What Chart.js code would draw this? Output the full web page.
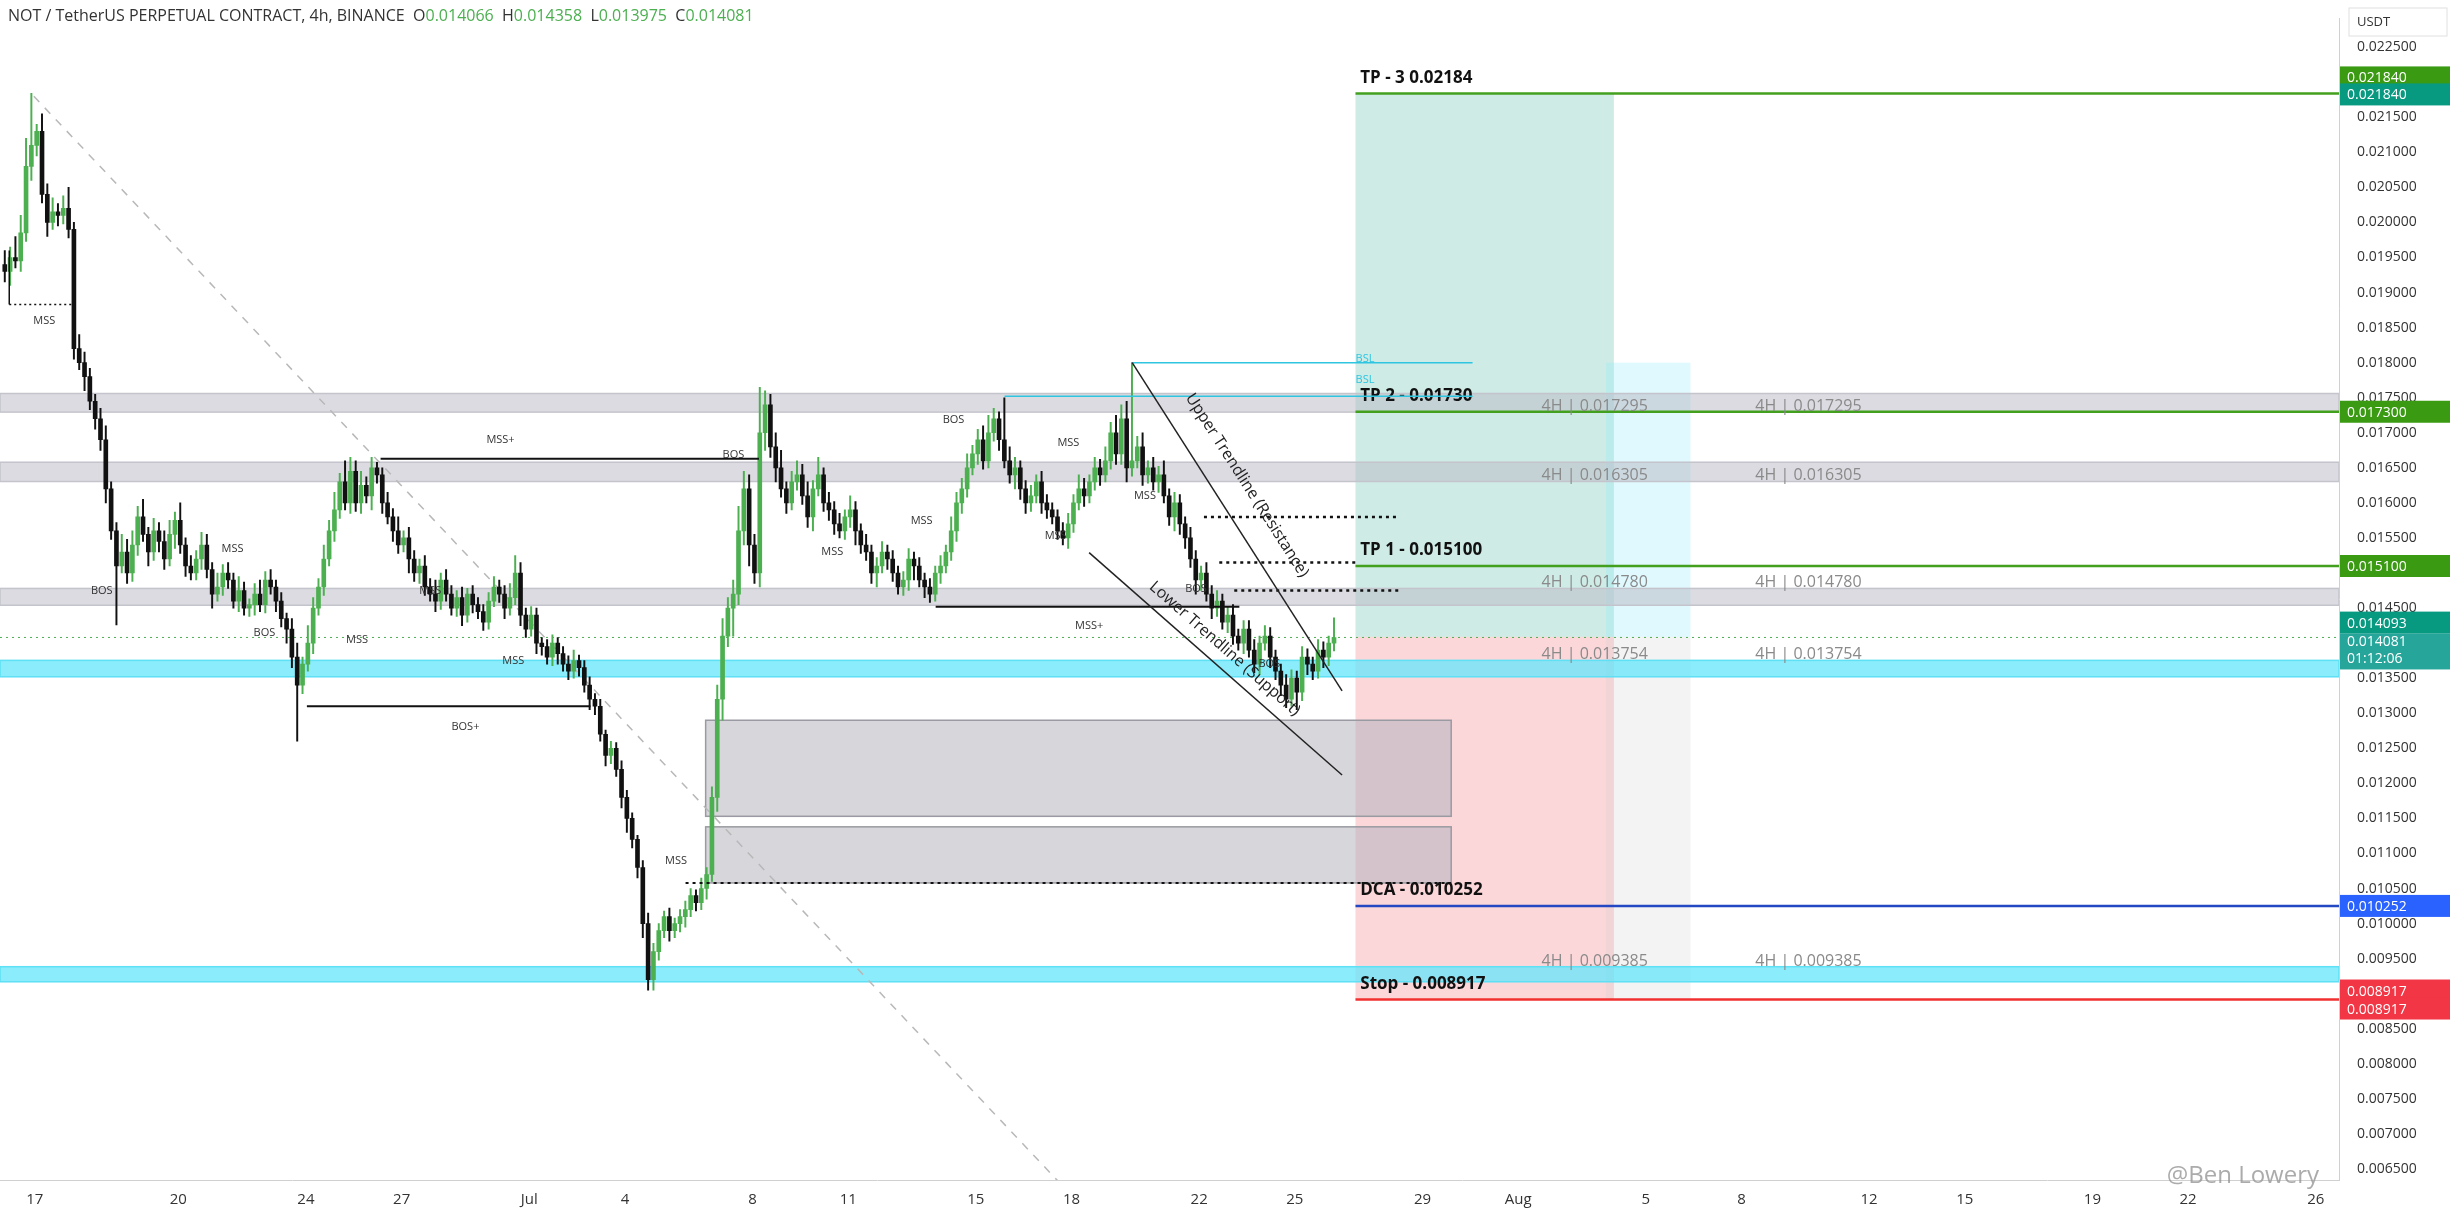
<!DOCTYPE html>
<html><head><meta charset="utf-8">
<script src="https://cdn.jsdelivr.net/npm/chart.js@4.4.1/dist/chart.umd.min.js"></script>
<style>html,body{margin:0;padding:0;background:#fff;overflow:hidden}canvas{display:block}</style>
</head><body><canvas id="c" width="2455" height="1229"></canvas>
<script>
// prices in units of 1e-5 USDT, 4h candles starting Jun 15 ~13:00
const closes = [
1930,1950,1945,1985,2080,2110, 2130,2040,2000,2015,2010,2020, 1990,1820,1800,1780,1745,1720,
1690,1620,1560,1510,1530,1500, 1540,1580,1555,1530,1560,1545, 1520,1555,1575,1540,1510,1500,
1520,1540,1505,1470,1480,1500, 1490,1460,1475,1450,1455,1470, 1455,1490,1480,1460,1435,1420,
1380,1340,1370,1400,1450,1480, 1520,1560,1590,1630,1600,1645, 1600,1625,1610,1650,1640,1600,
1580,1560,1540,1550,1520,1500, 1510,1480,1470,1460,1490,1470, 1450,1465,1440,1470,1455,1445,
1430,1460,1480,1470,1450,1465, 1500,1440,1420,1440,1400,1395, 1380,1400,1385,1370,1360,1375,
1365,1340,1320,1310,1270,1240, 1250,1220,1180,1150,1120,1080, 1000,920,960,990,1010,990,
1000,1010,1020,1040,1030,1050, 1070,1180,1320,1410,1450,1470, 1560,1620,1540,1500,1700,1740,
1680,1650,1620,1600,1630,1640, 1610,1580,1620,1640,1600,1590, 1570,1560,1580,1590,1560,1540,
1530,1500,1510,1530,1520,1500, 1480,1490,1520,1510,1490,1480, 1470,1500,1510,1530,1560,1600,
1620,1650,1670,1690,1660,1700, 1720,1690,1660,1640,1650,1620, 1600,1610,1630,1600,1590,1580,
1560,1550,1570,1600,1620,1610, 1630,1650,1640,1660,1700,1670, 1720,1650,1660,1680,1640,1650,
1630,1640,1610,1580,1600,1570, 1550,1520,1490,1500,1470,1450, 1460,1430,1440,1410,1400,1420,
1390,1370,1400,1410,1380,1360, 1340,1320,1350,1330,1380,1370, 1360,1390,1380,1400,1408];
const wickUp = [
20,15,30,25,40,74, 10,25,15,20,12,18, 30,10,20,15,12,10, 15,20,10,12,25,18, 20,15,25,10,18,12,
15,20,12,25,10,15, 12,18,15,10,20,12, 15,10,20,12,8,15, 20,12,15,10,12,8, 15,20,10,25,15,12,
20,15,25,12,30,20, 15,20,12,15,8,10, 15,12,20,10,15,12, 10,15,12,20,10,15, 12,10,15,8,12,10,
10,12,15,10,12,20, 25,15,10,12,10,8, 10,12,8,10,12,15, 8,10,12,8,10,6, 10,8,12,10,8,6,
10,15,12,10,8,12, 8,10,12,10,8,15, 10,15,20,25,15,20, 35,25,20,15,65,20, 15,20,25,10,15,20,
15,20,12,25,10,15, 12,15,10,20,12,10, 15,10,12,15,10,12, 10,12,15,10,12,10, 12,10,15,10,20,15,
15,20,12,15,20,25, 15,10,60,20,15,10, 12,15,10,15,12,10, 10,12,15,12,20,15, 10,15,12,20,15,25,
20,25,140,15,20,10, 15,12,20,10,15,12, 10,15,12,10,15,12, 15,10,12,15,10,12, 12,15,10,15,12,10,
10,15,12,10,15,12, 10,15,12,10,28];
const wickDn = [
15,20,10,15,12,20, 15,12,20,10,15,12, 12,15,10,20,12,15, 15,20,12,84,10,15, 12,15,10,20,12,15,
15,10,20,12,15,10, 10,15,12,20,10,12, 12,10,15,10,12,15, 10,12,10,15,12,20, 15,80,12,10,15,10,
12,10,15,12,10,15, 12,15,10,20,12,15, 10,15,12,10,20,12, 15,12,10,15,12,10, 10,12,15,10,12,10,
12,10,8,12,15,10, 10,15,12,10,15,12, 10,12,15,10,12,10, 12,10,15,12,10,15, 12,10,15,20,12,15,
20,15,15,12,10,15, 10,12,15,10,12,10, 15,10,20,30,15,40, 15,20,30,15,20,25, 15,20,12,15,10,12,
12,15,20,10,12,15, 15,10,12,15,20,12, 12,15,20,10,15,12, 10,12,15,20,10,15, 12,10,15,10,12,15,
15,12,10,15,12,10, 12,15,10,12,20,15, 15,12,10,15,12,10, 12,10,15,12,10,15, 10,12,15,10,12,15,
15,20,12,10,15,12, 12,15,10,12,20,15, 15,12,20,15,10,15, 12,10,15,12,10,15, 10,12,15,10,15,12,
15,12,10,25,12,15, 12,10,15,12,11];
const firstOpen = 1940;
const startDay = -16.44;           // days relative to Jul 1
const tickDays = [-15.5,-11,-7,-4,0,3,7,10,14,17,21,24,28,31,35,38,42,45,49,52,56];
const tickLabels = ["17","20","24","27","Jul","4","8","11","15","18","22","25","29","Aug","5","8","12","15","19","22","26"];
const zonesGray = [[0.017295,0.01756],[0.016305,0.01658],[0.01454,0.01478]];
const zonesCyan = [[0.01352,0.013754],[0.00917,0.009385]];
const zoneLabels = ["4H | 0.017295","4H | 0.016305","4H | 0.014780","4H | 0.013754","4H | 0.009385"];
const zoneLabelVals = [0.017295,0.016305,0.01478,0.013754,0.009385];
const targets = [["TP - 3 0.02184",0.02184,"#43a01f"],["TP 2 - 0.01730",0.0173,"#43a01f"],["TP 1 - 0.015100",0.0151,"#43a01f"],["DCA - 0.010252",0.010252,"#2447c4"],["Stop - 0.008917",0.008917,"#f23030"]];
const entry = 0.01409, lastPrice = 0.014081;

const U = 1e-5;
const bodies=[], wicks=[], cols=[];
let prev = firstOpen;
for (let i=0;i<closes.length;i++){
  const o=prev, c=closes[i];
  const x = startDay + i/6;
  bodies.push({x, y:[o*U, (c===o? c+1:c)*U]});
  wicks.push({x, y:[(Math.min(o,c)-wickDn[i])*U,(Math.max(o,c)+wickUp[i])*U]});
  cols.push(c>=o ? '#4caf50' : '#111111');
  prev=c;
}

const ann = {
  id:'ann',
  beforeDatasetsDraw(ch){
    const {ctx, chartArea:a, scales:{x,y}} = ch;
    const X=v=>x.getPixelForValue(v), Y=v=>y.getPixelForValue(v);
    ctx.save(); ctx.beginPath(); ctx.rect(a.left,a.top,a.right-a.left,a.bottom-a.top); ctx.clip();
    ctx.fillStyle='rgba(8,153,129,0.2)'; ctx.fillRect(X(25.9),Y(0.02184),X(34)-X(25.9),Y(entry)-Y(0.02184));
    ctx.fillStyle='rgba(242,54,69,0.2)'; ctx.fillRect(X(25.9),Y(entry),X(34)-X(25.9),Y(0.008917)-Y(entry));
    ctx.fillStyle='rgba(140,235,250,0.28)'; ctx.fillRect(X(33.75),Y(0.0180),X(36.4)-X(33.75),Y(entry)-Y(0.018));
    ctx.fillStyle='rgba(200,200,200,0.22)'; ctx.fillRect(X(33.75),Y(entry),X(36.4)-X(33.75),Y(0.008917)-Y(entry));
    const band=(lo,hi,f,s)=>{ctx.fillStyle=f;ctx.fillRect(a.left,Y(hi),a.right-a.left,Y(lo)-Y(hi));ctx.strokeStyle=s;ctx.lineWidth=1.5;ctx.strokeRect(a.left,Y(hi),a.right-a.left,Y(lo)-Y(hi));};
    zonesGray.forEach(z=>band(z[0],z[1],'rgba(190,190,200,0.55)','#c4c4cc'));
    zonesCyan.forEach(z=>band(z[0],z[1],'rgba(100,230,250,0.75)','#5ee0f5'));
    ctx.fillStyle='rgba(180,180,190,0.55)'; ctx.strokeStyle='#9a9aa2'; ctx.lineWidth=1.5;
    [[0.01153,0.0129],[0.01058,0.01138]].forEach(b=>{ctx.fillRect(X(5.53),Y(b[1]),X(28.9)-X(5.53),Y(b[0])-Y(b[1]));ctx.strokeRect(X(5.53),Y(b[1]),X(28.9)-X(5.53),Y(b[0])-Y(b[1]));});
    ctx.strokeStyle='#b8b8b8'; ctx.setLineDash([8,8]); ctx.lineWidth=1.5;
    ctx.beginPath(); ctx.moveTo(X(-15.53),Y(0.0218)); ctx.lineTo(X(16.59),Y(0.00632)); ctx.stroke();
    ctx.setLineDash([]);
    ctx.strokeStyle='#4caf50'; ctx.setLineDash([2,4]); ctx.lineWidth=1;
    ctx.beginPath(); ctx.moveTo(a.left,Y(lastPrice)); ctx.lineTo(a.right,Y(lastPrice)); ctx.stroke();
    ctx.setLineDash([]);
    ctx.restore();
  },
  afterDatasetsDraw(ch){
    const {ctx, chartArea:a, scales:{x,y}} = ch;
    const X=v=>x.getPixelForValue(v), Y=v=>y.getPixelForValue(v);
    ctx.save();
    const line=(d1,p1,d2,p2,c,w,dash)=>{ctx.strokeStyle=c;ctx.lineWidth=w;ctx.setLineDash(dash||[]);ctx.beginPath();ctx.moveTo(X(d1),Y(p1));ctx.lineTo(X(d2),Y(p2));ctx.stroke();ctx.setLineDash([]);};
    const txt=(s,d,p,f,c,al)=>{ctx.font=f;ctx.fillStyle=c;ctx.textAlign=al||'center';ctx.textBaseline='middle';ctx.fillText(s,X(d),Y(p));};
    targets.forEach(t=>{line(25.9,t[1],56.73,t[1],t[2],2.5);txt(t[0],26.05,t[1]+0.00022,'bold 17px "Open Sans"','#111','left');});
    zoneLabels.forEach((s,i)=>{txt(s,33.4,zoneLabelVals[i]+0.00008,'16px "Open Sans"','#8a8a8a');txt(s,40.1,zoneLabelVals[i]+0.00008,'16px "Open Sans"','#8a8a8a');});
    line(-4.66,0.01663,7.2,0.01663,'#111',2);
    line(-6.97,0.0131,1.92,0.0131,'#111',2);
    line(12.74,0.01452,22.26,0.01452,'#111',2);
    line(18.9,0.0180,29.57,0.0180,'#2ec5e0',1.5);
    line(14.9,0.01752,29.57,0.01752,'#2ec5e0',1.5);
    line(21.15,0.0158,27.26,0.0158,'#111',2.5,[3,4]);
    line(21.63,0.01515,25.9,0.01515,'#111',2.5,[3,4]);
    line(22.1,0.01475,27.26,0.01475,'#111',2.5,[3,4]);
    line(4.9,0.01058,28.9,0.01058,'#111',2,[3,4]);
    line(-16.3,0.01883,-14.3,0.01883,'#111',1.5,[2,3]);
    line(-16.3,0.01883,-16.3,0.0196,'#111',1.5);
    line(18.9,0.0180,25.48,0.01332,'#222',1.5);
    line(17.55,0.01529,25.48,0.01212,'#222',1.5);
    const rot=(s,d,p,ang)=>{ctx.save();ctx.translate(X(d),Y(p));ctx.rotate(ang);ctx.font='16px "Open Sans"';ctx.fillStyle='#222';ctx.textAlign='center';ctx.textBaseline='middle';ctx.fillText(s,0,0);ctx.restore();};
    const a1=Math.atan2(Y(0.01332)-Y(0.018),X(25.48)-X(18.9));
    const a2=Math.atan2(Y(0.01212)-Y(0.01529),X(25.48)-X(17.55));
    rot('Upper Trendline (Resistance)',22.5,0.01625,a1);
    rot('Lower Trendline (Support)',21.8,0.01392,a2);
    const sm='11px "Open Sans"';
    [['MSS',-15.2,0.0186],['MSS+',-0.9,0.0169],['BOS',6.4,0.01668],['BOS+',-2,0.0128],['MSS+',17.55,0.01425],
     ['MSS',-9.3,0.01535],['BOS',-13.4,0.01475],['BOS',-8.3,0.01415],['MSS',-3.1,0.01475],['MSS',-5.4,0.01405],['MSS',-0.5,0.01375],
     ['MSS',9.5,0.0153],['MSS',12.3,0.01575],['BOS',13.3,0.01718],['MSS',16.9,0.01685],['MSS',16.5,0.01553],['BOS',20.9,0.01478],['MSS',19.3,0.0161],['BOS',23.2,0.0137],['MSS',4.6,0.0109],['BSL',26.2,0.01805],['BSL',26.2,0.01775]]
      .forEach(l=>txt(l[0],l[1],l[2],sm,l[0]==='BSL'?'#2ec5e0':'#333'));
    ctx.textAlign='left'; ctx.textBaseline='middle'; ctx.font='16px "Open Sans"';
    let hx=8; const hy=16;
    [['NOT / TetherUS PERPETUAL CONTRACT, 4h, BINANCE  ','#333'],['O','#333'],['0.014066  ','#4caf50'],['H','#333'],['0.014358  ','#4caf50'],['L','#333'],['0.013975  ','#4caf50'],['C','#333'],['0.014081','#4caf50']]
      .forEach(p=>{ctx.fillStyle=p[1];ctx.fillText(p[0],hx,hy);hx+=ctx.measureText(p[0]).width;});
    const tag=(p,bg,s,dy)=>{const yy=Y(p)+(dy||0);ctx.fillStyle=bg;ctx.fillRect(a.right+1,yy-11,ch.width-a.right-6,22);ctx.fillStyle='#fff';ctx.font='14px "Open Sans"';ctx.textAlign='left';ctx.fillText(s,a.right+8,yy+1);};
    tag(0.02184,'#3a9a12','0.021840',-16); tag(0.02184,'#089981','0.021840',1);
    tag(0.0173,'#3a9a12','0.017300'); tag(0.0151,'#3a9a12','0.015100');
    tag(0.014093,'#089981','0.014093',-14);
    ctx.fillStyle='#26a69a'; ctx.fillRect(a.right+1,Y(lastPrice)-4,ch.width-a.right-6,36);
    ctx.fillStyle='#fff'; ctx.font='14px "Open Sans"'; ctx.fillText('0.014081',a.right+8,Y(lastPrice)+5); ctx.fillText('01:12:06',a.right+8,Y(lastPrice)+22);
    tag(0.010252,'#2962ff','0.010252');
    tag(0.008917,'#f23645','0.008917',-9); tag(0.008917,'#f23645','0.008917',9);
    ctx.strokeStyle='#e0e0e0'; ctx.lineWidth=1; ctx.strokeRect(a.right+10,8,ch.width-a.right-18,28);
    ctx.fillStyle='#333'; ctx.font='13px "Open Sans"'; ctx.fillText('USDT',a.right+18,22);
    ctx.font='24px "Open Sans"'; ctx.fillStyle='rgba(150,150,150,0.8)'; ctx.textAlign='right'; ctx.fillText('@Ben Lowery',a.right-20,a.bottom-4);
    ctx.restore();
  }
};

new Chart(document.getElementById('c'),{
  type:'bar',
  data:{datasets:[
    {data:wicks, backgroundColor:cols, barThickness:1.3, grouped:false, order:2},
    {data:bodies, backgroundColor:cols, barThickness:4, grouped:false, order:1}
  ]},
  options:{
    responsive:false, animation:false, devicePixelRatio:1,
    layout:{padding:{top:0,right:4,left:0,bottom:0}},
    plugins:{legend:{display:false},tooltip:{enabled:false}},
    scales:{
      x:{type:'linear',offset:false,min:-16.59,max:56.73,grid:{display:false},border:{color:'#d0d0d0'},
         afterBuildTicks(s){s.ticks=tickDays.map(v=>({value:v}));},
         afterFit(s){s.height=49;},
         ticks:{autoSkip:false,maxRotation:0,font:{size:15,family:'"Open Sans"'},color:'#333',padding:3,
           callback(v){const i=tickDays.indexOf(v);return i>=0?tickLabels[i]:'';}}},
      y:{position:'right',min:0.006343,max:0.02291,grid:{display:false},border:{color:'#d0d0d0'},
         afterBuildTicks(s){const t=[];for(let k=13;k<=45;k++)t.push({value:k*0.0005});s.ticks=t;},
         afterFit(s){s.width=112;},
         ticks:{font:{size:14,family:'"Open Sans"'},color:'#333',padding:10,callback:v=>v.toFixed(6)}}
    }
  },
  plugins:[ann]
});
</script></body></html>
